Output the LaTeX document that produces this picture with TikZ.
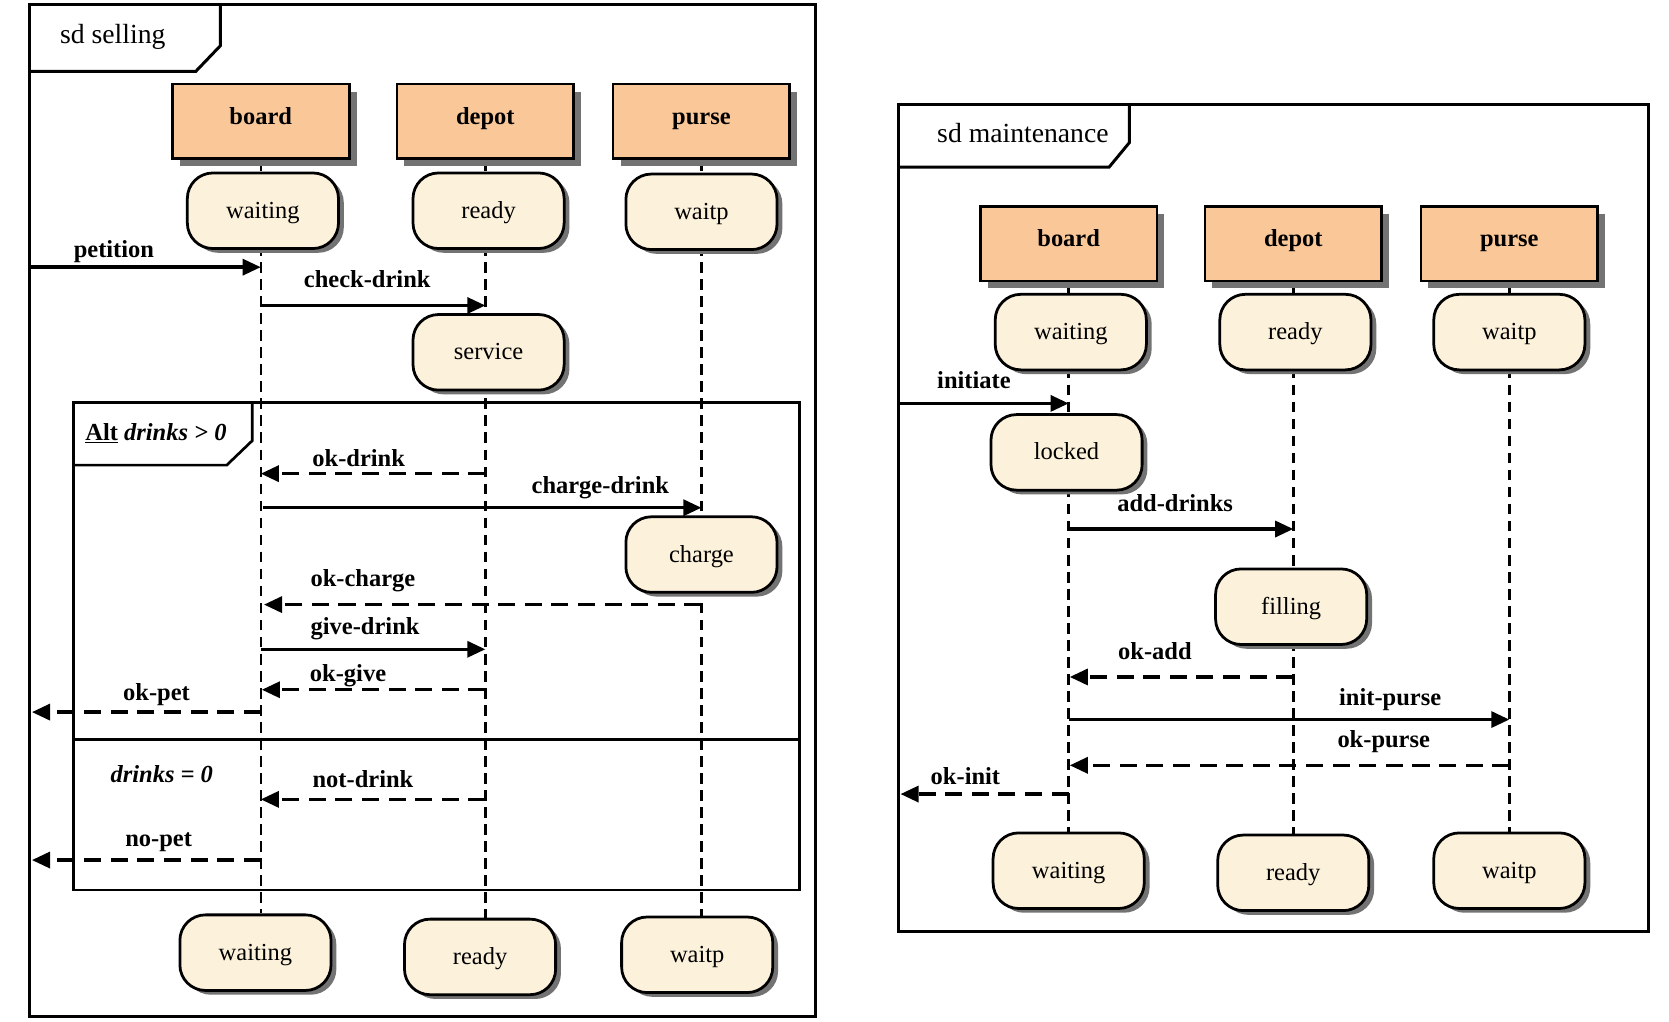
\documentclass[tikz,border=0pt]{standalone}
\usepackage{fontspec}
\setmainfont{Liberation Serif}
\usetikzlibrary{shadows,arrows.meta,backgrounds}

\definecolor{headfill}{RGB}{250,199,152}
\definecolor{statefill}{RGB}{252,241,219}
\definecolor{shadowgray}{RGB}{115,115,115}

\tikzset{
  frame/.style={draw=black, line width=2.8pt, line join=miter},
  fragment/.style={draw=black, line width=2.5pt},
  titletext/.style={font=\fontsize{26}{30}\selectfont, inner sep=0pt},
  headbox/.style={draw=black, line width=2.6pt, fill=headfill,
    minimum width=166pt, minimum height=70pt,
    text height=12pt, text depth=7pt,
    font=\fontsize{23}{27}\selectfont\bfseries,
    drop shadow={shadow xshift=7pt, shadow yshift=-7pt, fill=shadowgray, opacity=1}},
  statebox/.style={draw=black, line width=2.6pt, fill=statefill,
    rounded corners=24pt, minimum width=142pt, minimum height=71pt,
    text height=16pt, text depth=2pt,
    font=\fontsize{23}{27}\selectfont,
    drop shadow={shadow xshift=5pt, shadow yshift=-4pt, fill=shadowgray, opacity=1}},
  lifeline/.style={draw=black, line width=2.4pt, dash pattern=on 10pt off 6pt},
  tip/.style={-{Triangle[length=17pt,width=15pt]}},
  call/.style={draw=black, line width=3.2pt, tip},
  reply/.style={draw=black, line width=3.2pt, dash pattern=on 16pt off 9pt, tip},
  msglabel/.style={font=\fontsize{23}{27}\selectfont\bfseries, inner sep=0pt},
  guard/.style={font=\fontsize{23}{27}\selectfont\bfseries, inner sep=0pt},
}

\begin{document}
\begin{tikzpicture}[x=1pt,y=-1pt]
\useasboundingbox (0,0) rectangle (1568,960);

% ===================== sd selling =====================
\draw[frame] (28,4) rectangle (766,955);
\draw[frame] (207,4) -- (207,43) -- (184,67) -- (28,67);
\node[titletext] (tsel) at (106,35) {sd selling};

% lifeline heads
\node[headbox] (Lboard) at (245,114) {board};
\node[headbox] (Ldepot) at (456,114) {depot};
\node[headbox] (Lpurse) at (659,114) {purse};

% states
\node[statebox] (Lwait1)   at (247,198) {waiting};
\node[statebox] (Lready1)  at (459,198) {ready};
\node[statebox] (Lwaitp1)  at (659,199) {waitp};
\node[statebox] (Lservice) at (459,331) {service};
\node[statebox] (Lcharge)  at (659,521) {charge};
\node[statebox] (Lwait2)   at (240,895) {waiting};
\node[statebox] (Lready2)  at (451,899) {ready};
\node[statebox] (Lwaitp2)  at (655,897) {waitp};

% lifelines behind the states
\begin{scope}[on background layer]
  \draw[lifeline] (Lboard.south) -- (Lboard.south |- Lwait2.north);
  \draw[lifeline] (Ldepot.south) -- (Ldepot.south |- Lready2.north);
  \draw[lifeline] (Lpurse.south) -- (Lpurse.south |- Lwaitp2.north);
\end{scope}

% alt fragment
\draw[fragment] (69,378) rectangle (751,836);
\draw[fragment] (237,378) -- (237,414) -- (213,437) -- (69,437);
\draw[fragment] (69,695) -- (751,695);
\node[guard, anchor=west] (galt) at (80,407) {\underline{Alt} \textit{drinks > 0}};
\node[guard] (gzero) at (152,727) {\textit{drinks = 0}};

% message end points
\coordinate (petA) at (28,251);   \coordinate (petB) at (245,251);
\coordinate (chkA) at (245,287);  \coordinate (chkB) at (456,287);
\coordinate (okdA) at (456,445);  \coordinate (okdB) at (245,445);
\coordinate (chgA) at (247,477);  \coordinate (chgB) at (659,477);
\coordinate (okcA) at (659,568);  \coordinate (okcB) at (248,568);
\coordinate (givA) at (245,610);  \coordinate (givB) at (456,610);
\coordinate (okgA) at (456,648);  \coordinate (okgB) at (246,648);
\coordinate (okpA) at (245,669);  \coordinate (okpB) at (30,669);
\coordinate (notA) at (456,751);  \coordinate (notB) at (245,751);
\coordinate (nopA) at (245,808);  \coordinate (nopB) at (30,808);

\draw[call]  (petA) -- (petB);
\draw[call]  (chkA) -- (chkB);
\draw[reply] (okdA) -- (okdB);
\draw[call]  (chgA) -- (chgB);
\draw[reply] (okcA) -- (okcB);
\draw[call]  (givA) -- (givB);
\draw[reply] (okgA) -- (okgB);
\draw[reply] (okpA) -- (okpB);
\draw[reply] (notA) -- (notB);
\draw[reply] (nopA) -- (nopB);

\node[msglabel] (lpet) at (107,236) {petition};
\node[msglabel] (lchk) at (345,262) {check-drink};
\node[msglabel] (lokd) at (337,430) {ok-drink};
\node[msglabel] (lchg) at (564,458) {charge-drink};
\node[msglabel] (lokc) at (341,546) {ok-charge};
\node[msglabel] (lgiv) at (343,591) {give-drink};
\node[msglabel] (lokg) at (327,635) {ok-give};
\node[msglabel] (lokp) at (147,653) {ok-pet};
\node[msglabel] (lnot) at (341,732) {not-drink};
\node[msglabel] (lnop) at (149,791) {no-pet};

% ===================== sd maintenance =====================
\draw[frame] (844,98) rectangle (1549,875);
\draw[frame] (1061,98) -- (1061,134) -- (1042,157) -- (844,157);
\node[titletext] (tmnt) at (961,125) {sd maintenance};

\node[headbox] (Rboard) at (1004,229) {board};
\node[headbox] (Rdepot) at (1215,229) {depot};
\node[headbox] (Rpurse) at (1418,229) {purse};

\node[statebox] (Rwait1)  at (1006,312) {waiting};
\node[statebox] (Rready1) at (1217,312) {ready};
\node[statebox] (Rwaitp1) at (1418,312) {waitp};
\node[statebox] (Rlocked) at (1002,425) {locked};
\node[statebox] (Rfill)   at (1213,570) {filling};
\node[statebox] (Rwait2)  at (1004,818) {waiting};
\node[statebox] (Rready2) at (1215,820) {ready};
\node[statebox] (Rwaitp2) at (1418,818) {waitp};

\begin{scope}[on background layer]
  \draw[lifeline] (Rboard.south) -- (Rboard.south |- Rwait2.north);
  \draw[lifeline] (Rdepot.south) -- (Rdepot.south |- Rready2.north);
  \draw[lifeline] (Rpurse.south) -- (Rpurse.south |- Rwaitp2.north);
\end{scope}

\coordinate (iniA) at (844,379);   \coordinate (iniB) at (1004,379);
\coordinate (addA) at (1004,497);  \coordinate (addB) at (1215,497);
\coordinate (okaA) at (1215,636);  \coordinate (okaB) at (1005,636);
\coordinate (inpA) at (1004,676);  \coordinate (inpB) at (1418,676);
\coordinate (okuA) at (1418,719);  \coordinate (okuB) at (1005,719);
\coordinate (okiA) at (1004,746);  \coordinate (okiB) at (846,746);

\draw[call]  (iniA) -- (iniB);
\draw[call]  (addA) -- (addB);
\draw[reply] (okaA) -- (okaB);
\draw[call]  (inpA) -- (inpB);
\draw[reply] (okuA) -- (okuB);
\draw[reply] (okiA) -- (okiB);

\node[msglabel] (lini) at (915,357)  {initiate};
\node[msglabel] (ladd) at (1104,473) {add-drinks};
\node[msglabel] (loka) at (1085,612) {ok-add};
\node[msglabel] (linp) at (1306,657) {init-purse};
\node[msglabel] (loku) at (1300,697) {ok-purse};
\node[msglabel] (loki) at (907,729)  {ok-init};
\end{tikzpicture}
\end{document}
